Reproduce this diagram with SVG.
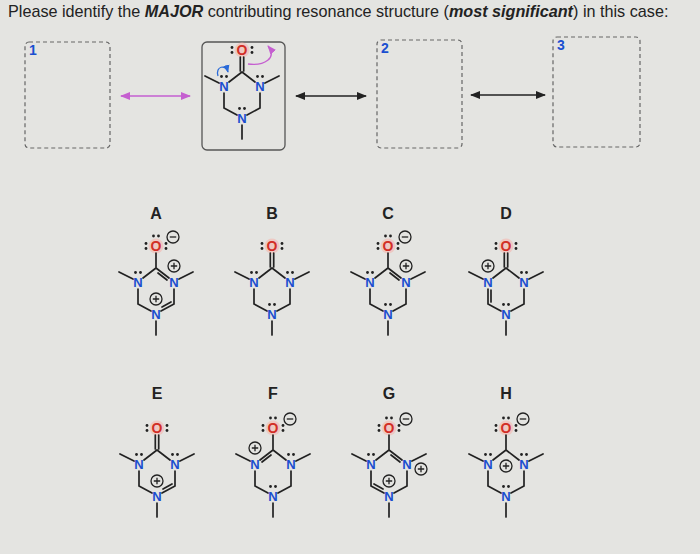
<svg xmlns="http://www.w3.org/2000/svg" xmlns:xlink="http://www.w3.org/1999/xlink" width="700" height="554" viewBox="0 0 700 554">
<style>
.b{stroke:#222;stroke-width:1.7;fill:none;stroke-linecap:round}
.n{fill:#1a4fd0;font:bold 13px "Liberation Sans",Arial,sans-serif;text-anchor:middle}
.o{fill:#d22e26;font:bold 14px "Liberation Sans",Arial,sans-serif;text-anchor:middle}
.lab{fill:#222;font:bold 16px "Liberation Sans",Arial,sans-serif;text-anchor:middle}
.num{fill:#1a4fd0;font:bold 14px "Liberation Sans",Arial,sans-serif}
.box{fill:none;stroke:#666;stroke-width:1.2;stroke-dasharray:4 3}
.d{fill:#222}
.ch{fill:none;stroke:#222;stroke-width:1.3}
</style>
<defs>
<g id="sk">
<path class="b" d="M0 0L-13 10M0 0L13 10M-18 21V36L-5 43M18 21V36L5 43M-23 11L-37 4M23 11L37 4M0 53V67"/>
<circle cx="0" cy="-22" r="7.5" fill="#f2bdb6" opacity="0.7"/>
<text class="o" x="0" y="-17">O</text>
<text class="n" x="-18" y="19">N</text>
<text class="n" x="18" y="19">N</text>
<text class="n" x="0" y="51">N</text>
</g>
<path id="co1" class="b" d="M0 -1V-15"/>
<path id="co2" class="b" d="M-1.7 -1V-15M1.7 -1V-15"/>
<g id="lpNL" class="d"><circle cx="-20.5" cy="4.5" r="1.4"/><circle cx="-15.5" cy="4.5" r="1.4"/></g>
<g id="lpNR" class="d"><circle cx="15.5" cy="4.5" r="1.4"/><circle cx="20.5" cy="4.5" r="1.4"/></g>
<g id="lpNB" class="d"><circle cx="-2.5" cy="36.5" r="1.4"/><circle cx="2.5" cy="36.5" r="1.4"/></g>
<g id="lpO2" class="d"><circle cx="-10" cy="-24.5" r="1.4"/><circle cx="-10" cy="-19.5" r="1.4"/><circle cx="10" cy="-24.5" r="1.4"/><circle cx="10" cy="-19.5" r="1.4"/></g>
<g id="lpO3" class="d"><use xlink:href="#lpO2"/><circle cx="-2.5" cy="-32" r="1.4"/><circle cx="2.5" cy="-32" r="1.4"/></g>
<g id="pl"><circle class="ch" r="6"/><path class="ch" d="M-3.2 0H3.2M0 -3.2V3.2"/></g>
<g id="mi"><circle class="ch" r="6"/><path class="ch" d="M-3.2 0H3.2"/></g>
<path id="dbR" class="b" d="M2 5L11 12"/>
<path id="dbL" class="b" d="M-2 5L-11 12"/>
<path id="dbLC" class="b" d="M-15 22V34"/>
<path id="dbRB" class="b" d="M15 34L6 39"/>
<path id="dbLB" class="b" d="M-15 34L-6 39"/>
<marker id="ak" viewBox="0 0 10 10" refX="9" refY="5" markerWidth="7" markerHeight="7" orient="auto-start-reverse"><path d="M0 1L10 5L0 9z" fill="#222"/></marker>
<marker id="ap" viewBox="0 0 10 10" refX="9" refY="5" markerWidth="7" markerHeight="7" orient="auto-start-reverse"><path d="M0 1L10 5L0 9z" fill="#c55fd0"/></marker>
<marker id="ab" viewBox="0 0 10 10" refX="9" refY="5" markerWidth="6" markerHeight="6" orient="auto"><path d="M0 1L10 5L0 9z" fill="#2a6ad8"/></marker>
</defs>
<rect width="700" height="554" fill="#e4e4e1"/>
<text x="8" y="17" font-family="Liberation Sans,Arial,sans-serif" font-size="16.2" fill="#222">Please identify the <tspan font-weight="bold" font-style="italic">MAJOR</tspan> contributing resonance structure (<tspan font-weight="bold" font-style="italic">most significant</tspan>) in this case:</text>
<g id="box1"><rect class="box" x="25" y="42" width="85" height="106" rx="4"/><text class="num" x="29" y="55">1</text></g>
<g id="box2"><rect class="box" x="377" y="40" width="85" height="108" rx="4"/><text class="num" x="381" y="53">2</text></g>
<g id="box3"><rect class="box" x="553" y="37" width="87" height="110" rx="4"/><text class="num" x="557" y="50">3</text></g>
<g id="given">
<rect x="202" y="42" width="83" height="108" rx="5" fill="none" stroke="#555" stroke-width="1.3"/>
<g transform="translate(242,72)"><use xlink:href="#sk"/><use xlink:href="#co2"/><use xlink:href="#lpO2"/><use xlink:href="#lpNL"/><use xlink:href="#lpNR"/><use xlink:href="#lpNB"/>
<path d="M-24 4C-27 -6 -16 -8 -14 0" fill="none" stroke="#2a6ad8" stroke-width="1.3" marker-end="url(#ab)"/>
<path d="M6 -8C22 -6 36 -14 26 -26" fill="none" stroke="#c55fd0" stroke-width="1.3" marker-end="url(#ap)"/></g>
</g>
<g id="connectors">
<line x1="121" y1="96" x2="190" y2="96" stroke="#c55fd0" stroke-width="1.5" marker-start="url(#ap)" marker-end="url(#ap)"/>
<line x1="296" y1="96" x2="366" y2="96" stroke="#222" stroke-width="1.5" marker-start="url(#ak)" marker-end="url(#ak)"/>
<line x1="471" y1="95" x2="545" y2="95" stroke="#222" stroke-width="1.5" marker-start="url(#ak)" marker-end="url(#ak)"/>
</g>
<g id="A"><text class="lab" x="156" y="219">A</text><g transform="translate(156,268)"><use xlink:href="#sk"/><use xlink:href="#co1"/><use xlink:href="#lpO3"/><use xlink:href="#mi" x="17" y="-31"/><use xlink:href="#dbR"/><use xlink:href="#pl" x="18" y="-2"/><use xlink:href="#lpNL"/><use xlink:href="#dbRB"/><use xlink:href="#pl" x="0" y="31"/></g></g>
<g id="B"><text class="lab" x="272" y="219">B</text><g transform="translate(272,268)"><use xlink:href="#sk"/><use xlink:href="#co2"/><use xlink:href="#lpO2"/><use xlink:href="#lpNL"/><use xlink:href="#lpNR"/><use xlink:href="#lpNB"/></g></g>
<g id="C"><text class="lab" x="388" y="219">C</text><g transform="translate(388,268)"><use xlink:href="#sk"/><use xlink:href="#co1"/><use xlink:href="#lpO3"/><use xlink:href="#mi" x="17" y="-31"/><use xlink:href="#dbR"/><use xlink:href="#pl" x="18" y="-2"/><use xlink:href="#lpNL"/><use xlink:href="#lpNB"/></g></g>
<g id="D"><text class="lab" x="506" y="219">D</text><g transform="translate(506,268)"><use xlink:href="#sk"/><use xlink:href="#co2"/><use xlink:href="#lpO2"/><use xlink:href="#pl" x="-18" y="-2"/><use xlink:href="#dbLC"/><use xlink:href="#lpNR"/><use xlink:href="#lpNB"/></g></g>
<g id="E"><text class="lab" x="157" y="399">E</text><g transform="translate(157,450)"><use xlink:href="#sk"/><use xlink:href="#co2"/><use xlink:href="#lpO2"/><use xlink:href="#lpNL"/><use xlink:href="#lpNR"/><use xlink:href="#dbRB"/><use xlink:href="#pl" x="0" y="31"/></g></g>
<g id="F"><text class="lab" x="273" y="399">F</text><g transform="translate(273,450)"><use xlink:href="#sk"/><use xlink:href="#co1"/><use xlink:href="#lpO3"/><use xlink:href="#mi" x="17" y="-31"/><use xlink:href="#dbL"/><use xlink:href="#pl" x="-18" y="-2"/><use xlink:href="#lpNR"/><use xlink:href="#lpNB"/></g></g>
<g id="G"><text class="lab" x="389" y="399">G</text><g transform="translate(389,450)"><use xlink:href="#sk"/><use xlink:href="#co1"/><use xlink:href="#lpO3"/><use xlink:href="#mi" x="17" y="-31"/><use xlink:href="#dbR"/><use xlink:href="#pl" x="32" y="19"/><use xlink:href="#lpNL"/><use xlink:href="#dbLB"/><use xlink:href="#pl" x="0" y="31"/></g></g>
<g id="H"><text class="lab" x="506" y="399">H</text><g transform="translate(506,450)"><use xlink:href="#sk"/><use xlink:href="#co1"/><use xlink:href="#lpO3"/><use xlink:href="#mi" x="17" y="-31"/><use xlink:href="#pl" x="0" y="16"/><use xlink:href="#lpNL"/><use xlink:href="#lpNR"/><use xlink:href="#lpNB"/></g></g>
</svg>
